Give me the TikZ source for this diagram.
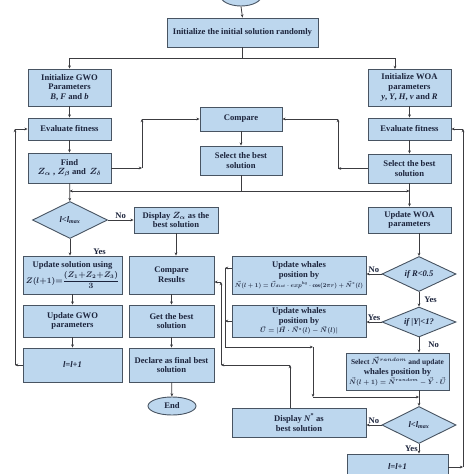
\documentclass[tikz,border=0pt]{standalone}
\usepackage{amsmath}
\usepackage{graphicx}
\usepackage{fontspec}
\setmainfont{Liberation Serif}
\usetikzlibrary{shapes.geometric,arrows.meta,calc}
\definecolor{boxfill}{RGB}{189,215,238}
\definecolor{boxline}{RGB}{72,84,98}
\definecolor{txt}{RGB}{28,36,60}
\definecolor{lin}{RGB}{60,60,64}
\begin{document}
\begin{tikzpicture}[x=1pt,y=-1pt,
  every node/.style={text=txt, font=\fontsize{8.6}{9.8}\selectfont\bfseries\boldmath},
  box/.style={draw=boxline, fill=boxfill, line width=0.9pt, align=center, inner sep=1pt},
  wh/.style 2 args={minimum width=#1pt, minimum height=#2pt},
  dia/.style={diamond, aspect=2, draw=boxline, fill=boxfill, line width=0.9pt, inner sep=0pt},
  oval/.style={ellipse, draw=boxline, fill=boxfill, line width=0.9pt, inner sep=0pt},
  arr/.style={draw=lin, line width=0.8pt, -{Stealth[length=3.2pt,width=2.8pt]}},
  ln/.style={draw=lin, line width=0.8pt},
  lab/.style={inner sep=1pt}
]
\fill[white] (0,0) rectangle (474,474);
\useasboundingbox (0,0) rectangle (474,474);

% ---------- nodes ----------
\node[oval, minimum width=42pt, minimum height=22pt] (start) at (241,-5) {};
\node[box, wh={151}{29}] (init) at (242.5,32.5) {Initialize the initial solution randomly};

% left column
\node[box, wh={83}{37}] (gwoInit) at (69.5,87.5) {Initialize GWO\\Parameters\\\textit{B}, \textit{F} and \textit{b}};
\node[box, wh={83}{22}] (evalL) at (69.5,129) {Evaluate fitness};
\node[box, wh={83}{30}] (find) at (69.5,168) {Find\\$Z_\alpha$ , $Z_\beta$ and \,$Z_\delta$};
\node[dia, minimum width=75pt, minimum height=37pt] (dL) at (70,220) {\textit{l<l}\textsubscript{\textit{max}}};
\node[box, wh={99}{38}, inner sep=0pt] (upSol) at (72.5,275) {Update solution using\\[1.5pt]\scalebox{0.9}{$Z(l{+}1){=}\dfrac{(Z_1{+}Z_2{+}Z_3)}{3}$}};
\node[box, wh={99}{32}] (upGWO) at (72.5,321) {Update GWO\\parameters};
\node[box, wh={99}{34}] (incL) at (72.5,365) {\textit{l=l+1}};

% middle column
\node[box, wh={82}{24}] (cmp) at (241,119) {Compare};
\node[box, wh={82}{29}] (selM) at (241,160.5) {Select the best\\solution};
\node[box, wh={84}{26}] (dispZ) at (176,220) {Display $Z_\alpha$ as the\\best solution};
\node[box, wh={85}{38}] (cmpRes) at (171.5,275) {Compare\\Results};
\node[box, wh={85}{32}] (getB) at (171.5,321) {Get the best\\solution};
\node[box, wh={85}{34}] (decl) at (171.5,365) {Declare as final best\\solution};
\node[oval, minimum width=48pt, minimum height=18pt] (endn) at (172,406) {End};

% right column
\node[box, wh={83}{37}] (woaInit) at (409.5,87.5) {Initialize WOA\\parameters\\\textit{y}, \textit{Y}, \textit{H}, \textit{v} and \textit{R}};
\node[box, wh={83}{22}] (evalR) at (409.5,129) {Evaluate fitness};
\node[box, wh={83}{29}] (selR) at (409.5,168.5) {Select the best\\solution};
\node[box, wh={83}{26}] (upWOA) at (409.5,220) {Update WOA\\parameters};
\node[dia, minimum width=74pt, minimum height=35pt] (dR) at (419,274) {\textit{if R<0.5}};
\node[dia, minimum width=74pt, minimum height=30pt] (dY) at (419,322) {\textit{if |Y|<1?}};
\node[box, wh={103}{37}] (selN) at (397.5,371.5) {\resizebox{93pt}{!}{Select $\vec{N}^{random}$ and update}\\whales position by\\\resizebox{97pt}{!}{$\vec{N}(l+1)=\vec{N}^{random}-\vec{Y}\cdot\vec{U}$}};
\node[dia, minimum width=74pt, minimum height=37pt] (dL2) at (419,425) {\textit{l<l}\textsubscript{\textit{max}}};
\node[box, wh={134}{38}] (wh1) at (299,275) {Update whales\\position by\\\resizebox{128pt}{!}{$\vec{N}(l+1)=\vec{U}_{dist}\cdot exp^{bq}\cdot\cos(2\pi r)+\vec{N}^{*}(l)$}};
\node[box, wh={134}{32}] (wh2) at (299,321) {Update whales\\position by\\\resizebox{78pt}{!}{$\vec{U}=|\vec{H}\cdot\vec{N}^{*}(l)-\vec{N}(l)|$}};
\node[box, wh={134}{29}] (dispN) at (299,422.5) {Display \textit{N}\textsuperscript{*} as\\best solution};
\node[box, wh={101}{26}] (incR) at (397.5,467) {\textit{l=l+1}};

% ---------- coordinates ----------
\coordinate (split) at (242.5,58);
\coordinate (woaTop) at (395,69);
\coordinate (lL1) at (15,365);
\coordinate (lL2) at (15,129);
\coordinate (fc1) at (142,168);
\coordinate (fc2) at (142,119);
\coordinate (sm) at (241,191);
\coordinate (sc1) at (338,168.5);
\coordinate (sc2) at (338,119);
\coordinate (rl1) at (463,467);
\coordinate (rl2) at (463,129);
\coordinate (w1a) at (225,268);
\coordinate (w2a) at (225,321);
\coordinate (wb) at (225,347);
\coordinate (wc) at (313,347);
\coordinate (wd) at (313,397);
\coordinate (n1) at (290,365);
\coordinate (n2) at (221,365);
\coordinate (n3) at (221,282);

% ---------- connectors ----------
\draw[arr] (start.south) -- (init.north);
\draw[ln] (init.south) -- (split);
\draw[arr] (split) -| (gwoInit.north);
\draw[arr] (split) -| (woaTop);

\draw[arr] (gwoInit) -- (evalL);
\draw[arr] (evalL) -- (find);
\draw[arr] (find) -- (dL);
\draw[arr] (dL.east) -- (dL.east -| dispZ.west) node[lab, midway, above] {No};
\draw[arr] (dL.south) -- (dL.south |- upSol.north) node[lab, pos=0.75, anchor=west, xshift=22pt] {Yes};
\draw[arr] (upSol) -- (upGWO);
\draw[arr] (upGWO) -- (incL);
\draw[arr] (incL.west) -- (lL1);
\draw[arr] (lL1) -- (lL2);
\draw[arr] (lL2) -- (evalL.west);

\draw[arr] (find.east) -- (fc1);
\draw[arr] (fc1) -- (fc2);
\draw[arr] (fc2) -- (cmp.west);
\draw[arr] (cmp) -- (selM);
\draw[ln] (selM.south) -- (sm);
\draw[arr] (sm) -- (sm -| find.south);
\draw[arr] (sm) -- (sm -| selR.south);

\draw[arr] (woaInit) -- (evalR);
\draw[arr] (evalR) -- (selR);
\draw[arr] (selR) -- (upWOA);
\draw[arr] (selR.west) -- (sc1);
\draw[arr] (sc1) -- (sc2);
\draw[arr] (sc2) -- (cmp.east);

\draw[arr] (dispZ.south) -- (dispZ.south |- cmpRes.north);
\draw[arr] (cmpRes) -- (getB);
\draw[arr] (getB) -- (decl);
\draw[arr] (decl) -- (endn);

\draw[arr] (upWOA.south -| dR.north) -- (dR.north);
\draw[arr] (dR.west) -- (dR.west -| wh1.east) node[lab, midway, above] {No};
\draw[arr] (dR.south) -- (dY.north) node[lab, midway, right, xshift=4pt] {Yes};
\draw[arr] (dY.west) -- (dY.west -| wh2.east) node[lab, midway, above] {Yes};
\draw[arr] (dY.south) -- (dY.south |- selN.north) node[lab, midway, right, xshift=8pt] {No};
\draw[arr] (dL2.north |- selN.south) -- (dL2.north);
\draw[arr] (dL2.west) -- (dL2.west -| dispN.east) node[lab, midway, above] {No};
\draw[arr] (dL2.south) -- (dL2.south |- incR.north) node[lab, midway, left] {Yes};
\draw[arr] (incR.east) -- (rl1);
\draw[arr] (rl1) -- (rl2);
\draw[arr] (rl2) -- (evalR.east);

\draw[arr] (wh1.west |- w1a) -- (w1a);
\draw[arr] (wh2.west) -- (w2a);
\draw[ln] (w1a) -- (wb);
\draw[arr] (wb) -- (wc);
\draw[arr] (wc) -- (wd);
\draw[arr] (wd) -- (wd -| dL2.north);

\draw[arr] (dispN.north -| n1) -- (n1);
\draw[arr] (n1) -- (n2);
\draw[arr] (n2) -- (n3);
\draw[arr] (n3) -- (n3 -| cmpRes.east);
\end{tikzpicture}
\end{document}
